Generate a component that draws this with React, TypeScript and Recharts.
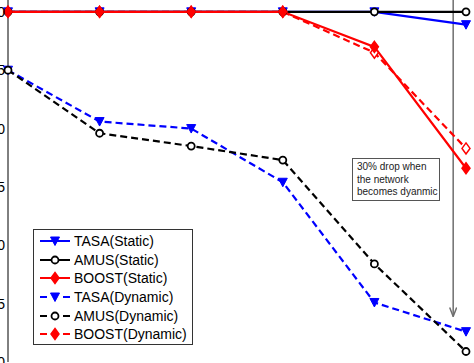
import { LineChart, Line, XAxis, YAxis, Legend, ReferenceLine } from 'recharts'

const FONT = '"Liberation Sans", Arial, sans-serif'

const xs = [0, 15, 30, 45, 60, 75]
const tasaStatic = [100, 100, 100, 100, 100, 98.9]
const amusStatic = [100, 100, 100, 100, 100, 100]
const boostStatic = [100, 100, 100, 100, 97.0, 86.6]
const tasaDynamic = [95, 90.6, 90.0, 85.4, 75.1, 72.6]
const amusDynamic = [95, 89.6, 88.5, 87.3, 78.4, 70.9]
const boostDynamic = [100, 100, 100, 100, 96.5, 88.3]
const yTicks = [70, 75, 80, 85, 90, 95, 100]
const xTicks = [0, 10, 20, 30, 40, 50, 60, 70]
const note = ['30% drop when', 'the network', 'becomes dyanmic']

const data = xs.map((x, i) => ({
    x,
    tasaS: tasaStatic[i],
    amusS: amusStatic[i],
    boostS: boostStatic[i],
    tasaD: tasaDynamic[i],
    amusD: amusDynamic[i],
    boostD: boostDynamic[i],
}))

const series = [
    { key: 'tasaS', name: 'TASA(Static)', color: '#0000ff', dashed: false, shape: 'tri', hollow: false },
    { key: 'amusS', name: 'AMUS(Static)', color: '#000000', dashed: false, shape: 'circ', hollow: true },
    { key: 'boostS', name: 'BOOST(Static)', color: '#ff0000', dashed: false, shape: 'dia', hollow: false },
    { key: 'tasaD', name: 'TASA(Dynamic)', color: '#0000ff', dashed: true, shape: 'tri', hollow: false },
    { key: 'amusD', name: 'AMUS(Dynamic)', color: '#000000', dashed: true, shape: 'circ', hollow: true },
    { key: 'boostD', name: 'BOOST(Dynamic)', color: '#ff0000', dashed: true, shape: 'dia', hollow: true },
]

// dynamic series go underneath so the static markers on the 100% line stay on top
const drawOrder = [...series.filter((s) => s.dashed), ...series.filter((s) => !s.dashed)]

function Marker({ shape, cx, cy, color, hollow }: any) {
    if (cx == null || cy == null) return null
    if (shape === 'tri') {
        return <polygon points={`${cx - 4.5},${cy - 4} ${cx + 4.5},${cy - 4} ${cx},${cy + 4.5}`} fill={color} stroke={color} strokeWidth={1} />
    }
    if (shape === 'dia') {
        return <polygon points={`${cx},${cy - 5.5} ${cx + 4},${cy} ${cx},${cy + 5.5} ${cx - 4},${cy}`} fill={hollow ? '#fff' : color} stroke={color} strokeWidth={1.5} />
    }
    return <circle cx={cx} cy={cy} r={3.5} fill="#fff" stroke={color} strokeWidth={1.8} />
}

function LegendBox() {
    return (
        <div style={{ border: '1px solid #333', background: '#fff', padding: '2px 6px', boxSizing: 'border-box', width: 160, height: 116, fontFamily: FONT, fontSize: 14, color: '#000' }}>
            {series.map((s) => (
                <div key={s.key} style={{ display: 'flex', alignItems: 'center', height: 18.6 }}>
                    <svg width={30} height={14} style={{ flex: 'none' }}>
                        <line x1={0} x2={30} y1={7} y2={7} stroke={s.color} strokeWidth={2} strokeDasharray={s.dashed ? '7 16' : undefined} />
                        <Marker shape={s.shape} cx={15} cy={7} color={s.color} hollow={s.dashed ? false : s.hollow} />
                    </svg>
                    <span style={{ marginLeft: 4, whiteSpace: 'nowrap' }}>{s.name}</span>
                </div>
            ))}
        </div>
    )
}

export default function App() {
    return (
        <div style={{ position: 'fixed', left: 0, top: 0, width: 474, height: 363, overflow: 'hidden', background: '#fff', fontFamily: FONT }}>
            <div style={{ position: 'absolute', left: -50, top: -20 }}>
                <LineChart width={536} height={402} data={data} margin={{ top: 19, right: 20, bottom: 20, left: 0 }}>
                    <defs>
                        <marker id="arrowHead" viewBox="0 0 10 8" refX={9} refY={4} markerWidth={10} markerHeight={8} markerUnits="userSpaceOnUse" orient="auto">
                            <path d="M0,0.5 L9,4 L0,7.5" fill="none" stroke="#6e6e6e" strokeWidth={1.5} />
                        </marker>
                    </defs>
                    <XAxis dataKey="x" type="number" domain={[0, 75]} ticks={xTicks} mirror height={0} tick={false} tickSize={5} axisLine={{ stroke: '#000' }} tickLine={{ stroke: '#000' }} />
                    <XAxis xAxisId="top" dataKey="x" type="number" orientation="top" domain={[0, 75]} ticks={xTicks} mirror height={0} tick={false} tickSize={5} axisLine={false} tickLine={{ stroke: '#000' }} />
                    <YAxis type="number" domain={[70, 101.1]} ticks={yTicks} width={58} tickLine={false} tickSize={0} tickMargin={3} axisLine={{ stroke: '#000' }} tick={{ fill: '#000', fontSize: 14, fontFamily: FONT }} />
                    <YAxis yAxisId="leftTicks" type="number" domain={[70, 101.1]} ticks={yTicks} mirror width={0} tick={false} tickSize={5} axisLine={false} tickLine={{ stroke: '#000' }} />
                    <YAxis yAxisId="right" type="number" orientation="right" domain={[70, 101.1]} ticks={yTicks} mirror width={0} tick={false} tickSize={5} axisLine={{ stroke: '#000' }} tickLine={{ stroke: '#000' }} />
                    <ReferenceLine
                        segment={[{ x: 72.9, y: 101.1 }, { x: 72.9, y: 73.9 }]}
                        stroke="#6e6e6e"
                        strokeWidth={1.5}
                        markerEnd="url(#arrowHead)"
                        ifOverflow="visible"
                    />
                    {drawOrder.map((s) => (
                        <Line
                            key={s.key}
                            dataKey={s.key}
                            name={s.name}
                            type="linear"
                            stroke={s.color}
                            strokeWidth={2.2}
                            strokeDasharray={s.dashed ? '7 4' : undefined}
                            isAnimationActive={false}
                            activeDot={false}
                            dot={(p: any) => <Marker key={`${s.key}-${p.index}`} shape={s.shape} cx={p.cx} cy={p.cy} color={s.color} hollow={s.hollow} />}
                        />
                    ))}
                    <Legend content={LegendBox} layout="vertical" align="center" verticalAlign="middle" wrapperStyle={{ left: 83, top: 249, width: 160, height: 116 }} />
                </LineChart>
            </div>
            <div style={{ position: 'absolute', left: 352, top: 158, width: 88, height: 43, boxSizing: 'border-box', border: '1px solid #555', background: '#fff', padding: '2px 0 0 4px', fontSize: 10, lineHeight: '12.5px', color: '#222', fontFamily: FONT }}>
                {note.map((t) => (
                    <div key={t} style={{ whiteSpace: 'nowrap' }}>{t}</div>
                ))}
            </div>
        </div>
    )
}
